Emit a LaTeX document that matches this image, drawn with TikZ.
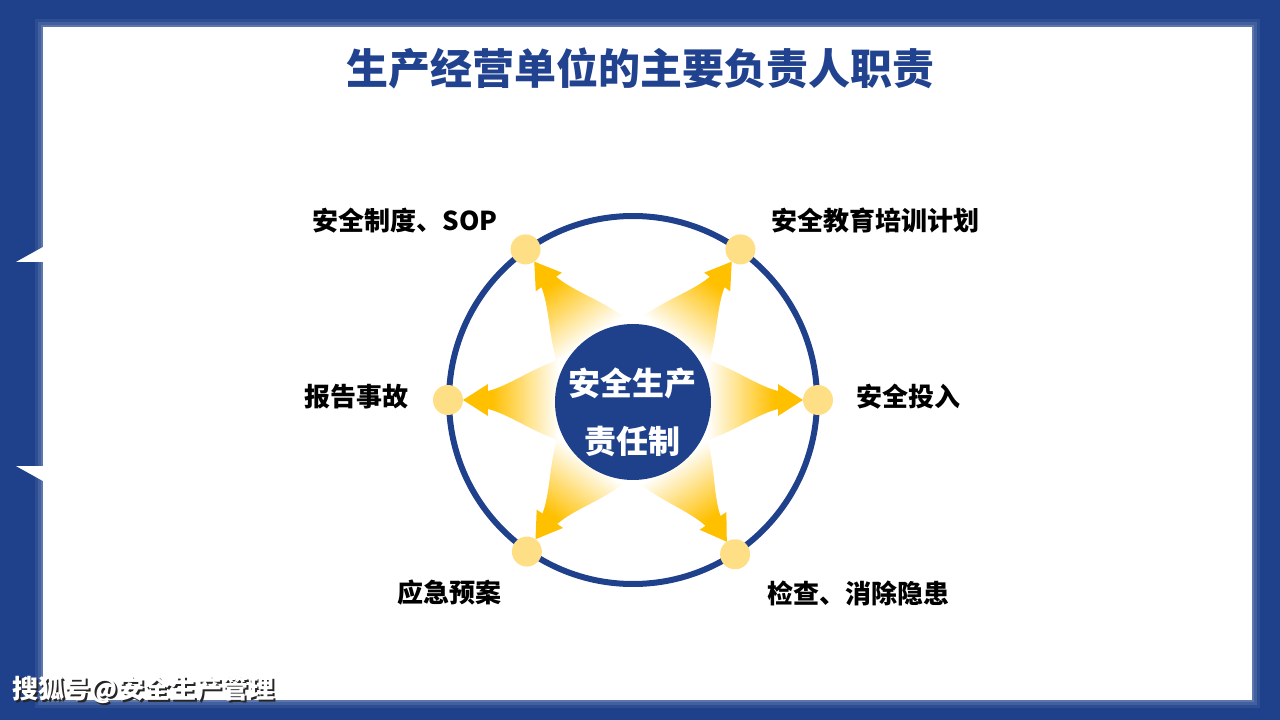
\documentclass[tikz,border=0pt]{standalone}
\usepackage{fontspec}
\usepackage{tikz}
\usetikzlibrary{positioning}
\newfontfamily\cjk{Noto Sans CJK SC}
\definecolor{frameBlue}{RGB}{31,65,139}
\definecolor{titleBlue}{RGB}{33,66,142}
\definecolor{arrowGold}{RGB}{255,192,0}
\definecolor{dotYellow}{RGB}{255,223,133}
\pgfdeclarehorizontalshading{arrowFade}{100bp}{color(0bp)=(white); color(35bp)=(white); color(63bp)=(arrowGold); color(100bp)=(arrowGold)}
\tikzstyle{dutyDot}=[circle, fill=dotYellow, minimum size=30pt, inner sep=0pt]
\tikzstyle{dutyLabel}=[font=\cjk\bfseries\fontsize{26}{30}\selectfont, text=black, inner sep=0pt]
\tikzstyle{hubText}=[font=\cjk\bfseries\fontsize{32}{58}\selectfont, text=white, align=center, inner sep=0pt]
\tikzstyle{markText}=[font=\cjk\bfseries\fontsize{26}{30}\selectfont, inner sep=0pt]
\tikzstyle{fanArrow}=[shading=arrowFade]

\begin{document}
\begin{tikzpicture}[x=1pt, y=1pt]
    % frame and panel
    \fill[frameBlue] (-633,-320) rectangle (647,400);
    \useasboundingbox (-633,-320) rectangle (647,400);
    \foreach \w/\o in {16/0.07, 10/0.1, 4/0.14}
        \draw[white, opacity=\o, line width=\w] (-590,373) rectangle (619,-300);
    \fill[white] (-590,373) rectangle (619,-300);
    \fill[white] (-590,153) -- (-590,138) -- (-617,138) -- cycle;
    \fill[white] (-617,-66) -- (-590,-66) -- (-590,-81) -- cycle;

    \node[font=\cjk\bfseries\fontsize{42}{50}\selectfont, text=titleBlue] (title) at (8,332) {生产经营单位的主要负责人职责};

    % ring and arrows
    \draw[frameBlue, line width=6] (0,0) circle[radius=184];
    \foreach \ang in {0, 54.5, 125.5, 180, 235, 303.5} {
        \begin{scope}[transform canvas={rotate=\ang}]
            \path[fanArrow] (50,-55) -- (80,-38) .. controls (103,-30) and (125,-14) .. (145,-9)
                -- (145,-16) -- (170,0) -- (145,16) -- (145,9)
                .. controls (125,14) and (103,30) .. (80,38) -- (50,55) -- cycle;
        \end{scope}
    }

    \node[circle, fill=frameBlue, minimum size=156, inner sep=0pt] (hub) at (0,-2) {};
    \node[hubText] (hubLabel) at (0,-12) {安全生产\\责任制};

    % duty points
    \node[dutyDot] (dotSop) at (125.5:185) {};
    \node[dutyDot] (dotTrain) at (54.5:185) {};
    \node[dutyDot] (dotReport) at (180:185) {};
    \node[dutyDot] (dotInvest) at (0:185) {};
    \node[dutyDot] (dotPlan) at (235:185) {};
    \node[dutyDot] (dotCheck) at (303.5:185) {};

    \node[dutyLabel] (labSop) at (-228,179) {安全制度、SOP};
    \node[dutyLabel] (labTrain) at (242,179) {安全教育培训计划};
    \node[dutyLabel] (labReport) at (-276,3) {报告事故};
    \node[dutyLabel] (labInvest) at (275,3) {安全投入};
    \node[dutyLabel] (labPlan) at (-183,-193) {应急预案};
    \node[dutyLabel] (labCheck) at (225,-193) {检查、消除隐患};

    % watermark
    \node[markText, text=black!85] (markShadow) at (-487.5,-292) {搜狐号@安全生产管理};
    \node[markText, text=white] (mark) at (-489.5,-290) {搜狐号@安全生产管理};
\end{tikzpicture}
\end{document}
